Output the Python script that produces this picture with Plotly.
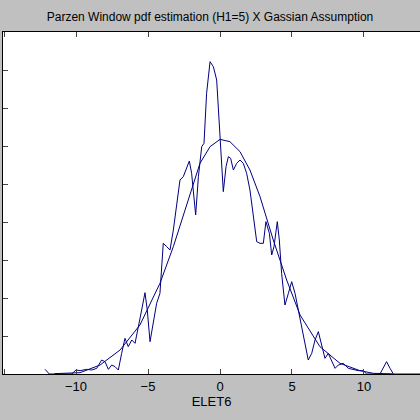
import plotly.graph_objects as go

parzen_x = [-12.15,-11.85,-10.30,-10.00,-9.72,-9.26,-8.91,-8.56,-8.22,-7.99,-7.75,-7.52,-7.29,-7.06,-6.83,-6.60,-6.37,-6.13,-5.90,-5.67,-5.44,-5.21,-5.05,-4.86,-4.63,-4.40,-4.17,-3.94,-3.70,-3.47,-3.24,-3.01,-2.78,-2.55,-2.31,-2.13,-1.97,-1.69,-1.50,-1.39,-1.27,-1.11,-0.93,-0.69,-0.46,-0.23,-0.12,0.0,0.12,0.23,0.42,0.58,0.74,0.93,1.16,1.39,1.62,1.85,2.08,2.31,2.55,2.78,3.01,3.19,3.43,3.59,3.75,3.98,4.12,4.28,4.51,4.75,4.98,5.21,5.44,5.67,5.90,6.13,6.37,6.60,6.83,7.06,7.29,7.52,7.75,7.99,8.22,8.56,8.91,9.26,9.61,9.95,10.19,11.11,11.34,11.57,11.81,12.04,13.89]
parzen_y = [.014,0,0,.012,.010,.014,.012,.017,.042,.037,.014,.027,.022,.012,.062,.107,.082,.102,.092,.147,.192,.244,.192,.097,.152,.212,.242,.392,.382,.372,.432,.502,.582,.592,.622,.639,.602,.477,.592,.642,.682,.692,.842,.937,.922,.882,.792,.702,.602,.547,.622,.652,.647,.612,.632,.642,.632,.602,.552,.482,.397,.392,.392,.457,.422,.357,.382,.457,.402,.302,.207,.242,.277,.242,.192,.137,.082,.042,.062,.102,.127,.082,.047,.062,.042,.017,.027,.032,.017,.014,.010,.010,0,0,.017,.037,.017,0,0]

gauss_x = [-11.5,-9.72,-8.33,-6.94,-5.56,-4.17,-3.24,-2.31,-1.39,-0.69,0.0,0.69,1.39,2.08,2.78,3.70,4.63,5.56,6.94,8.33,9.72,10.65,12.0]
gauss_y = [.001,.004,.027,.072,.147,.272,.382,.507,.632,.682,.704,.697,.667,.612,.532,.402,.282,.177,.082,.032,.010,.002,.0005]

x_ticks = [-15,-10,-5,0,5,10]

fig = go.Figure()
line = dict(color="#000080", width=1)
fig.add_trace(go.Scatter(x=parzen_x, y=parzen_y, mode="lines", line=line))
fig.add_trace(go.Scatter(x=gauss_x, y=gauss_y, mode="lines", line=line))

fig.update_layout(
    width=420, height=420, showlegend=False,
    paper_bgcolor="#c0c0c0", plot_bgcolor="white",
    margin=dict(l=3, r=0, t=32, b=46, autoexpand=False),
    font=dict(family="Liberation Sans, Arial", size=13, color="black"),
    title=dict(text="Parzen Window pdf estimation (H1=5) X Gassian Assumption",
               x=0.5, xanchor="center", y=0.96, yanchor="middle",
               font=dict(size=12)),
    xaxis=dict(range=[-15.07, 13.89], tickvals=x_ticks, ticks="inside", ticklen=5,
               showline=True, linecolor="black", mirror="allticks", showgrid=False,
               zeroline=False, automargin=False,
               title=dict(text="ELET6", standoff=4, font=dict(size=13)),
               tickfont=dict(size=13)),
    yaxis=dict(range=[0, 1.026], dtick=0.114, tick0=0, ticks="inside", ticklen=5,
               showline=True, linecolor="black", showgrid=False, zeroline=False,
               showticklabels=False, automargin=False),
)
fig.write_html("out.html", config={"displayModeBar": False},
               post_script="document.body.style.margin='0';document.body.style.background='#c0c0c0';")
